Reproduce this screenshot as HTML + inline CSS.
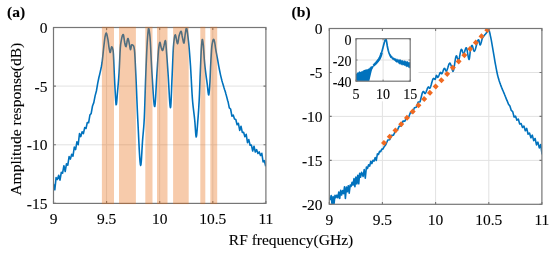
<!DOCTYPE html><html><head><meta charset="utf-8"><style>html,body{margin:0;padding:0;background:#fff;width:550px;height:254px;overflow:hidden}svg{display:block}text{font-family:'Liberation Serif','Times New Roman',serif;fill:#000;stroke:#000;stroke-width:0.1px}</style></head><body>
<svg width="550" height="254" viewBox="0 0 550 254">
<defs><clipPath id="ca"><rect x="53.5" y="27.5" width="212.4" height="175.9"/></clipPath>
<clipPath id="cb"><rect x="329.3" y="28.5" width="212.6" height="175.8"/></clipPath>
<clipPath id="ci"><rect x="356.0" y="38.7" width="54.2" height="42.5"/></clipPath></defs>
<rect width="550" height="254" fill="#fff"/>
<path d="M106.6,27.5V203.4M159.7,27.5V203.4M212.8,27.5V203.4M53.5,86.1H265.9M53.5,144.8H265.9" stroke="#e2e2e2" stroke-width="1" fill="none"/>
<g clip-path="url(#ca)"><path d="M53.5,183.9 54.8,189.8 56.1,177.6 57.4,179.5 58.7,175.2 60.0,180.1 61.3,172.3 62.6,173.2 63.9,165.7 65.2,171.5 66.5,163.7 67.8,165.1 69.1,156.6 70.4,159.1 71.7,154.2 73.0,156.2 74.3,147.0 75.6,149.6 76.9,141.9 78.2,144.7 79.5,133.5 80.8,136.6 82.1,131.7 83.4,133.6 84.7,127.6 86.0,128.5 87.3,122.5 88.6,122.8 89.9,115.1 91.2,113.4 92.5,106.0 93.8,102.6 95.1,95.9 96.4,91.0 97.7,83.3 99.0,77.0 99.3,75.9 99.6,74.7 99.9,73.4 100.2,72.1 100.5,70.8 100.8,69.4 101.1,68.0 101.4,66.5 101.7,64.8 102.0,63.0 102.3,60.8 102.6,58.2 102.9,55.4 103.2,52.4 103.5,49.5 103.8,46.7 104.1,44.2 104.4,41.6 104.7,39.1 105.0,37.0 105.3,35.6 105.6,34.3 105.9,33.4 106.2,33.0 106.5,33.3 106.8,34.2 107.1,35.4 107.4,36.8 107.7,38.3 108.0,39.9 108.3,42.1 108.6,44.5 108.9,46.8 109.2,48.6 109.5,50.2 109.8,51.7 110.1,52.5 110.4,52.3 110.7,51.1 111.0,49.4 111.3,47.7 111.6,46.8 111.9,46.8 112.2,47.3 112.5,48.1 112.8,49.2 113.1,50.6 113.4,54.0 113.7,60.1 114.0,67.3 114.3,74.0 114.6,80.2 114.9,86.5 115.2,92.0 115.5,97.1 115.8,101.9 116.1,104.8 116.4,104.5 116.7,102.0 117.0,98.4 117.3,94.4 117.6,90.9 117.9,87.6 118.2,84.3 118.5,80.7 118.8,76.8 119.1,72.4 119.4,66.7 119.7,60.1 120.0,53.5 120.3,48.1 120.6,44.7 120.9,42.7 121.2,40.9 121.5,39.3 121.8,37.8 122.1,36.6 122.4,35.6 122.7,35.0 123.0,34.6 123.3,34.6 123.6,35.5 123.9,37.3 124.2,39.4 124.5,41.5 124.8,43.3 125.1,44.5 125.4,45.7 125.7,46.5 126.0,46.6 126.3,45.8 126.6,44.4 126.9,42.6 127.2,40.7 127.5,39.3 127.8,38.5 128.1,38.6 128.4,39.4 128.7,40.7 129.0,42.2 129.3,43.8 129.6,45.2 129.9,47.1 130.2,48.8 130.5,49.6 130.8,48.9 131.1,47.4 131.4,45.8 131.7,44.8 132.0,44.7 132.3,44.8 132.6,45.0 132.9,45.2 133.2,45.5 133.5,45.8 133.8,46.6 134.1,47.9 134.4,49.6 134.7,52.6 135.0,57.6 135.3,63.7 135.6,70.1 135.9,76.2 136.2,82.8 136.5,89.9 136.8,97.3 137.1,104.7 137.4,111.7 137.7,118.1 138.0,123.9 138.3,130.0 138.6,136.4 138.9,142.6 139.2,148.6 139.5,154.0 139.8,158.6 140.1,162.2 140.4,164.6 140.7,165.4 141.0,164.2 141.3,161.1 141.6,156.6 141.9,151.4 142.2,146.1 142.5,141.4 142.8,137.5 143.1,134.2 143.4,130.9 143.7,127.4 144.0,123.2 144.3,118.1 144.6,110.8 144.9,101.7 145.2,92.0 145.5,82.5 145.8,74.2 146.1,66.8 146.4,59.5 146.7,52.6 147.0,46.5 147.3,41.4 147.6,37.3 147.9,33.4 148.2,30.2 148.5,28.4 148.8,28.6 149.1,29.8 149.4,31.8 149.7,34.2 150.0,37.0 150.3,41.3 150.6,46.7 150.9,52.9 151.2,59.2 151.5,65.4 151.8,71.0 152.1,75.7 152.4,80.3 152.7,85.1 153.0,90.0 153.3,94.5 153.6,98.7 153.9,102.2 154.2,104.8 154.5,106.3 154.8,106.5 155.1,104.6 155.4,101.0 155.7,96.1 156.0,90.5 156.3,84.6 156.6,79.0 156.9,74.2 157.2,69.7 157.5,64.9 157.8,60.0 158.1,55.5 158.4,51.4 158.7,48.2 159.0,46.1 159.3,44.2 159.6,42.9 159.9,42.3 160.2,42.9 160.5,44.2 160.8,45.8 161.1,47.2 161.4,48.1 161.7,49.0 162.0,49.7 162.3,50.3 162.6,50.5 162.9,50.1 163.2,49.0 163.5,47.7 163.8,46.4 164.1,45.2 164.4,43.8 164.7,42.4 165.0,41.2 165.3,40.5 165.6,41.1 165.9,43.7 166.2,47.6 166.5,51.9 166.8,55.7 167.1,59.7 167.4,64.0 167.7,68.4 168.0,72.8 168.3,77.2 168.6,82.4 168.9,87.9 169.2,93.4 169.5,98.6 169.8,102.9 170.1,106.1 170.4,107.7 170.7,106.9 171.0,102.9 171.3,96.6 171.6,88.9 171.9,81.1 172.2,74.2 172.5,67.4 172.8,60.0 173.1,53.0 173.4,47.3 173.7,43.7 174.0,41.0 174.3,38.5 174.6,36.6 174.9,35.3 175.2,34.8 175.5,35.2 175.8,36.2 176.1,37.6 176.4,39.2 176.7,40.9 177.0,42.3 177.3,43.3 177.6,43.7 177.9,43.0 178.2,41.4 178.5,39.3 178.8,37.2 179.1,35.8 179.4,34.8 179.7,33.9 180.0,33.0 180.3,32.3 180.6,31.7 180.9,31.4 181.2,31.4 181.5,32.2 181.8,33.8 182.1,35.7 182.4,37.3 182.7,38.7 183.0,40.2 183.3,41.6 183.6,42.7 183.9,43.1 184.2,42.3 184.5,40.3 184.8,37.7 185.1,35.0 185.4,32.9 185.7,31.0 186.0,29.2 186.3,28.1 186.6,28.2 186.9,29.2 187.2,30.9 187.5,33.0 187.8,35.5 188.1,38.1 188.4,40.7 188.7,43.4 189.0,46.5 189.3,49.9 189.6,53.6 189.9,57.6 190.2,61.6 190.5,65.8 190.8,70.7 191.1,76.1 191.4,81.8 191.7,87.4 192.0,92.7 192.3,97.4 192.6,101.2 192.9,104.4 193.2,107.2 193.5,109.7 193.8,112.2 194.1,114.6 194.4,117.2 194.7,120.0 195.0,123.4 195.3,127.8 195.6,132.2 195.9,135.6 196.2,137.0 196.5,136.1 196.8,133.6 197.1,130.2 197.4,126.2 197.7,122.2 198.0,118.5 198.3,114.6 198.6,110.2 198.9,105.4 199.2,100.0 199.5,93.4 199.8,85.6 200.1,77.5 200.4,70.0 200.7,62.9 201.0,55.8 201.3,49.5 201.6,45.0 201.9,41.7 202.2,39.5 202.5,39.6 202.8,41.1 203.1,43.3 203.4,45.9 203.7,50.1 204.0,54.9 204.3,59.5 204.6,63.0 204.9,66.0 205.2,68.7 205.5,71.2 205.8,73.6 206.1,75.9 206.4,78.1 206.7,80.2 207.0,82.4 207.3,84.7 207.6,87.3 207.9,90.3 208.2,92.9 208.5,94.6 208.8,94.9 209.1,93.2 209.4,90.1 209.7,86.3 210.0,81.5 210.3,74.2 210.6,66.8 210.9,61.1 211.2,55.5 211.5,50.5 211.8,46.6 212.1,44.4 212.4,42.8 212.7,41.4 213.0,40.3 213.3,39.6 213.6,39.3 213.9,39.6 214.2,40.5 214.5,41.7 214.8,43.0 215.1,44.9 215.4,47.3 215.7,49.2 216.0,51.0 216.3,52.6 216.6,54.2 216.9,55.8 217.2,57.4 217.5,59.0 217.8,60.7 218.1,62.4 218.4,64.1 218.7,65.8 219.0,67.4 219.3,69.0 219.6,70.5 219.9,72.0 220.2,73.4 220.5,74.8 220.8,76.1 221.1,77.4 221.4,78.6 221.7,79.8 222.0,80.9 222.3,81.9 222.6,83.0 222.9,84.0 223.2,85.0 223.5,86.0 223.8,87.0 224.1,88.0 224.4,88.9 224.7,89.9 225.0,90.8 225.3,91.8 225.6,92.8 225.9,93.9 226.2,94.9 226.5,96.1 226.8,97.2 227.1,98.4 227.4,99.5 227.7,100.8 228.0,101.4 229.3,107.9 230.6,109.0 231.9,116.1 233.2,115.0 234.5,119.1 235.8,119.5 237.1,124.8 238.4,123.3 239.7,130.4 241.0,126.2 242.3,132.4 243.6,132.2 244.9,136.7 246.2,134.3 247.5,142.7 248.8,139.6 250.1,145.3 251.4,145.1 252.7,151.0 254.0,146.3 255.3,152.0 256.6,149.6 257.9,153.5 259.2,151.9 260.5,155.5 261.8,153.3 263.1,161.9 264.4,160.7 265.7,166.3" stroke="#0072BD" stroke-width="1.6" fill="none" stroke-linejoin="round"/></g>
<rect x="53.5" y="27.5" width="212.4" height="175.9" fill="none" stroke="#767676" stroke-width="1.2"/>
<path d="M53.5,203.4v-2.4M53.5,27.5v2.4M106.6,203.4v-2.4M106.6,27.5v2.4M159.7,203.4v-2.4M159.7,27.5v2.4M212.8,203.4v-2.4M212.8,27.5v2.4M265.9,203.4v-2.4M265.9,27.5v2.4M53.5,27.5h2.4M265.9,27.5h-2.4M53.5,86.1h2.4M265.9,86.1h-2.4M53.5,144.8h2.4M265.9,144.8h-2.4M53.5,203.4h2.4M265.9,203.4h-2.4" stroke="#767676" stroke-width="1.1"/>
<rect x="101.9" y="26.8" width="12.1" height="177.3" fill="#E76A0E" fill-opacity="0.35"/>
<rect x="119.0" y="26.8" width="16.9" height="177.3" fill="#E76A0E" fill-opacity="0.35"/>
<rect x="145.3" y="26.8" width="7.2" height="177.3" fill="#E76A0E" fill-opacity="0.35"/>
<rect x="157.0" y="26.8" width="10.5" height="177.3" fill="#E76A0E" fill-opacity="0.35"/>
<rect x="173.1" y="26.8" width="15.6" height="177.3" fill="#E76A0E" fill-opacity="0.35"/>
<rect x="200.3" y="26.8" width="5.0" height="177.3" fill="#E76A0E" fill-opacity="0.35"/>
<rect x="210.3" y="26.8" width="6.9" height="177.3" fill="#E76A0E" fill-opacity="0.35"/>
<path d="M382.4,28.5V204.3M435.6,28.5V204.3M488.8,28.5V204.3M329.3,72.5H541.9M329.3,116.4H541.9M329.3,160.4H541.9" stroke="#e2e2e2" stroke-width="1" fill="none"/>
<rect x="330.2" y="29.3" width="88.3" height="72" fill="#fff"/>
<g clip-path="url(#cb)"><path d="M329.3,197.6 330.2,199.5 331.2,195.5 332.1,205.3 333.1,196.6 334.0,203.8 335.0,195.4 335.9,197.6 336.9,195.2 337.8,197.8 338.8,192.0 339.7,198.4 340.7,190.4 341.6,195.0 342.6,190.6 343.5,193.6 344.5,186.8 345.4,198.4 346.4,187.1 347.3,191.6 348.3,185.7 349.2,193.2 350.2,185.1 351.1,186.3 352.1,182.2 353.0,185.1 354.0,178.5 354.9,186.7 355.9,177.1 356.8,183.9 357.8,175.2 358.7,183.8 359.7,173.2 360.6,177.2 361.6,172.3 362.0,173.3 363.1,176.5 364.2,169.5 365.3,178.1 366.4,167.0 367.5,168.5 368.6,164.7 369.7,166.1 370.8,161.3 371.9,163.6 373.0,160.3 374.1,161.1 375.2,157.6 376.3,160.4 377.4,153.9 378.5,154.4 379.6,151.4 380.7,151.6 381.8,149.0 382.9,149.2 384.0,147.0 385.9,144.5 387.8,140.0 389.7,139.8 391.6,135.4 393.5,135.2 395.4,130.7 397.3,130.3 399.2,126.2 401.1,125.9 403.0,121.1 404.9,121.1 406.8,117.2 408.7,117.0 410.6,112.1 412.5,112.8 414.4,107.7 416.3,107.2 418.2,102.1 420.1,101.8 422.0,94.0 422.3,93.1 422.6,92.4 422.9,91.9 423.2,91.6 423.5,91.5 423.8,91.7 424.1,92.2 424.4,92.8 424.7,93.3 425.0,93.5 425.3,93.4 425.6,93.0 425.9,92.4 426.2,91.7 426.5,90.9 426.8,90.1 427.1,89.2 427.4,88.4 427.7,87.8 428.0,87.3 428.3,87.0 428.6,86.9 428.9,87.3 429.2,87.9 429.5,88.3 429.8,88.2 430.1,87.9 430.4,87.3 430.7,86.5 431.0,85.5 431.3,84.5 431.6,83.3 431.9,82.2 432.2,81.2 432.5,80.2 432.8,79.4 433.1,78.8 433.4,78.5 433.7,78.4 434.0,78.6 434.3,78.9 434.6,79.2 434.9,79.4 435.2,79.4 435.5,78.7 435.8,77.4 436.1,76.1 436.4,75.4 436.7,75.5 437.0,76.1 437.3,76.9 437.6,77.4 437.9,77.3 438.2,77.0 438.5,76.5 438.8,75.8 439.1,75.0 439.4,74.3 439.7,73.5 440.0,73.0 440.3,72.5 440.6,72.4 440.9,72.7 441.2,73.3 441.5,73.8 441.8,73.7 442.1,73.4 442.4,72.8 442.7,72.0 443.0,71.2 443.3,70.3 443.6,69.6 443.9,68.9 444.2,68.5 444.5,68.3 444.8,68.5 445.1,69.1 445.4,69.8 445.7,70.5 446.0,71.0 446.3,71.1 446.6,70.8 446.9,70.3 447.2,69.6 447.5,68.7 447.8,67.8 448.1,66.8 448.4,65.8 448.7,64.9 449.0,64.1 449.3,63.5 449.6,63.2 449.9,63.1 450.2,63.4 450.5,64.0 450.8,64.7 451.1,65.5 451.4,66.3 451.7,67.3 452.0,68.5 452.3,69.7 452.6,70.7 452.9,71.3 453.2,71.1 453.5,70.4 453.8,69.1 454.1,67.5 454.4,65.6 454.7,63.5 455.0,61.5 455.3,59.6 455.6,58.0 455.9,56.7 456.2,56.0 456.5,55.8 456.8,56.4 457.1,57.2 457.4,58.0 457.7,58.7 458.0,59.5 458.3,60.1 458.6,60.2 458.9,59.6 459.2,58.6 459.5,57.2 459.8,55.6 460.1,53.9 460.4,52.3 460.7,50.9 461.0,49.9 461.3,49.3 461.6,49.4 461.9,49.9 462.2,50.6 462.5,51.5 462.8,52.3 463.1,53.0 463.4,53.5 463.7,53.6 464.0,53.2 464.3,52.6 464.6,51.8 464.9,50.8 465.2,49.8 465.5,48.9 465.8,48.2 466.1,47.8 466.4,47.7 466.7,48.4 467.0,49.5 467.3,51.1 467.6,53.0 467.9,54.9 468.2,56.6 468.5,58.1 468.8,59.1 469.1,59.5 469.4,58.6 469.7,56.4 470.0,53.6 470.3,50.9 470.6,49.1 470.9,48.0 471.2,46.9 471.5,46.0 471.8,45.5 472.1,45.4 472.4,45.9 472.7,46.8 473.0,47.9 473.3,49.1 473.6,50.2 473.9,51.0 474.2,51.3 474.5,51.1 474.8,50.7 475.1,50.0 475.4,49.2 475.7,48.1 476.0,47.0 476.3,45.8 476.6,44.7 476.9,43.5 477.2,42.4 477.5,41.4 477.8,40.6 478.1,40.0 478.4,39.7 478.7,39.7 479.0,40.5 479.3,42.0 479.6,43.6 479.9,44.7 480.2,45.0 480.5,44.6 480.8,43.8 481.1,42.8 481.4,41.7 481.7,40.5 482.0,39.4 482.3,38.5 482.6,37.8 482.9,37.3 483.2,36.8 483.5,36.4 483.8,36.0 484.1,35.6 484.4,35.2 484.7,34.9 485.0,34.6 485.3,34.3 485.6,34.0 485.9,33.6 486.2,33.2 486.5,32.8 486.8,32.3 487.1,31.8 487.4,31.2 487.7,30.2 488.0,29.1 488.3,28.8 488.6,29.3 488.9,30.0 489.2,30.7 489.5,31.7 489.8,33.0 490.1,34.3 490.4,35.8 490.7,37.2 491.0,38.7 491.3,40.2 491.6,41.9 491.9,43.6 492.2,45.3 492.5,47.1 492.8,48.9 493.1,50.6 493.4,52.3 493.7,54.1 494.0,55.9 494.3,57.7 494.6,59.5 494.9,61.3 495.2,63.0 495.5,64.6 495.8,66.2 496.1,67.8 496.4,69.4 496.7,71.0 497.0,72.5 497.3,73.9 497.6,75.2 497.9,76.4 498.2,77.5 498.5,78.6 498.8,79.5 499.1,80.5 499.4,81.4 499.7,82.3 500.0,83.1 500.3,83.9 500.6,84.8 500.9,85.6 501.2,86.4 501.5,87.2 501.8,87.9 502.1,88.6 502.4,89.4 502.7,90.1 503.0,90.8 503.3,91.5 503.6,92.2 503.9,92.9 504.2,93.6 504.5,94.3 504.8,95.1 505.1,95.8 505.4,96.6 505.7,97.3 506.0,98.1 506.3,98.9 506.6,99.6 506.9,100.4 507.1,100.6 508.5,104.3 509.9,106.1 511.3,110.4 512.7,111.6 514.1,117.0 515.5,116.1 516.9,120.2 518.3,119.0 519.7,124.0 521.1,123.6 522.5,127.5 523.9,126.1 525.3,130.8 526.7,128.4 528.1,134.2 529.5,133.0 530.9,137.8 532.3,135.1 533.7,140.6 535.1,138.5 536.5,144.9 537.9,142.2 539.3,147.9 540.7,144.6 542.1,154.5" stroke="#0072BD" stroke-width="1.6" fill="none" stroke-linejoin="round"/>
<path d="M382.60,144.50L488.75,28.50" stroke="#F06A22" stroke-width="4.3" stroke-dasharray="4.2 4.300" fill="none"/></g>
<rect x="329.3" y="28.5" width="212.6" height="175.8" fill="none" stroke="#767676" stroke-width="1.2"/>
<path d="M329.3,204.3v-2.4M329.3,28.5v2.4M382.4,204.3v-2.4M382.4,28.5v2.4M435.6,204.3v-2.4M435.6,28.5v2.4M488.8,204.3v-2.4M488.8,28.5v2.4M541.9,204.3v-2.4M541.9,28.5v2.4M329.3,28.5h2.4M541.9,28.5h-2.4M329.3,72.5h2.4M541.9,72.5h-2.4M329.3,116.4h2.4M541.9,116.4h-2.4M329.3,160.4h2.4M541.9,160.4h-2.4M329.3,204.3h2.4M541.9,204.3h-2.4" stroke="#767676" stroke-width="1.1"/>
<rect x="356.0" y="38.7" width="54.2" height="42.5" fill="#fff"/>
<path d="M383.1,38.7V81.2M356.0,60.0H410.2" stroke="#e2e2e2" stroke-width="1"/>
<g clip-path="url(#ci)"><path d="M356.0,73.3 356.6,74.0 357.2,72.4 357.8,72.4 358.4,72.4 359.0,71.4 359.6,71.3 360.2,72.0 360.8,71.7 361.4,71.3 362.0,71.4 362.6,71.0 363.2,70.2 363.8,70.4 364.4,69.8 365.0,70.1 365.6,69.4 366.2,68.9 366.8,69.7 367.4,69.2 368.0,69.0 368.6,68.4 369.2,68.4 369.8,67.5 370.4,67.3 371.0,66.1 371.6,66.4 372.2,66.3 372.8,65.7 373.4,65.3 374.0,64.4 374.6,64.3 374.6,65.0 374.0,66.0 373.4,67.2 372.8,68.4 372.2,69.6 371.6,71.6 371.0,74.0 370.4,76.4 369.8,79.0 369.2,81.5 368.6,81.5 368.0,81.5 367.4,81.5 366.8,81.5 366.2,81.5 365.6,81.5 365.0,81.5 364.4,81.5 363.8,81.5 363.2,81.5 362.6,81.5 362.0,81.5 361.4,81.5 360.8,81.5 360.2,81.5 359.6,81.5 359.0,81.5 358.4,81.5 357.8,81.5 357.2,81.5 356.6,81.5 356.0,81.5 Z" fill="#0072BD"/><path d="M373.5,65.5 373.8,65.2 374.1,65.0 374.4,64.7 374.7,64.4 375.0,64.1 375.3,63.8 375.6,63.5 375.9,63.2 376.2,62.9 376.5,62.5 376.8,62.2 377.1,61.8 377.4,61.5 377.7,61.1 378.0,60.7 378.3,60.3 378.6,59.9 378.9,59.4 379.2,59.0 379.5,58.5 379.8,57.9 380.1,57.3 380.4,56.5 380.7,55.7 381.0,54.8 381.3,53.8 381.6,52.9" stroke="#0072BD" stroke-width="2.6" fill="none"/><path d="M381.0,54.6 381.3,53.6 381.6,52.7 381.9,51.6 382.2,50.5 382.5,49.4 382.8,48.2 383.1,47.1 383.4,46.0 383.7,44.8 384.0,43.7 384.3,42.6 384.6,41.7 384.9,40.7 385.2,39.7 385.5,39.0 385.8,38.7 386.1,39.3 386.4,40.6 386.7,42.1 387.0,44.1 387.3,46.0 387.6,47.5 387.9,48.9 388.2,50.2 388.5,51.3 388.8,52.3 389.1,53.1 389.4,53.9 389.7,54.6 390.0,55.2 390.3,55.6 390.6,56.1 390.9,56.5 391.2,56.8 391.5,57.1 391.8,57.4" stroke="#0072BD" stroke-width="1.7" fill="none"/><path d="M390.0,54.1 390.6,55.7 391.2,55.9 391.8,56.2 392.4,57.2 393.0,57.5 393.6,57.8 394.2,58.5 394.8,58.1 395.4,58.8 396.0,58.9 396.6,59.2 397.2,59.4 397.8,59.2 398.4,59.7 399.0,60.2 399.6,59.7 400.2,59.7 400.8,59.9 401.4,60.4 402.0,61.0 402.6,60.3 403.2,61.4 403.8,61.0 404.4,60.8 405.0,61.2 405.6,61.1 406.2,61.8 406.8,61.8 407.4,61.6 408.0,61.7 408.6,62.5 409.2,62.5 409.8,62.3 410.4,62.4 410.4,67.7 409.8,67.9 409.2,67.6 408.6,67.4 408.0,66.4 407.4,66.5 406.8,66.8 406.2,66.4 405.6,66.1 405.0,65.3 404.4,65.5 403.8,64.9 403.2,64.9 402.6,65.0 402.0,64.5 401.4,64.7 400.8,64.4 400.2,63.7 399.6,64.0 399.0,63.7 398.4,63.0 397.8,62.3 397.2,61.9 396.6,62.2 396.0,62.0 395.4,61.3 394.8,60.8 394.2,60.2 393.6,59.8 393.0,59.8 392.4,59.2 391.8,58.4 391.2,57.6 390.6,57.7 390.0,56.5 Z" fill="#0072BD" stroke="#0072BD" stroke-width="0.6"/></g>
<rect x="356.0" y="38.7" width="54.2" height="42.5" fill="none" stroke="#767676" stroke-width="1.2"/>
<path d="M356.0,81.2v-1.6M356.0,38.7v1.6M383.1,81.2v-1.6M383.1,38.7v1.6M410.2,81.2v-1.6M410.2,38.7v1.6M356.0,38.7h1.6M410.2,38.7h-1.6M356.0,60.0h1.6M410.2,60.0h-1.6M356.0,81.2h1.6M410.2,81.2h-1.6" stroke="#767676" stroke-width="1"/>
<text x="53.5" y="224.1" font-size="15.5" text-anchor="middle">9</text>
<text x="106.6" y="224.1" font-size="15.5" text-anchor="middle">9.5</text>
<text x="159.7" y="224.1" font-size="15.5" text-anchor="middle">10</text>
<text x="212.8" y="224.1" font-size="15.5" text-anchor="middle">10.5</text>
<text x="265.9" y="224.1" font-size="15.5" text-anchor="middle">11</text>
<text x="47.5" y="32.9" font-size="15.5" text-anchor="end">0</text>
<text x="47.5" y="91.5" font-size="15.5" text-anchor="end">-5</text>
<text x="47.5" y="150.2" font-size="15.5" text-anchor="end">-10</text>
<text x="47.5" y="208.8" font-size="15.5" text-anchor="end">-15</text>
<text x="329.3" y="225.4" font-size="15.5" text-anchor="middle">9</text>
<text x="382.4" y="225.4" font-size="15.5" text-anchor="middle">9.5</text>
<text x="435.6" y="225.4" font-size="15.5" text-anchor="middle">10</text>
<text x="488.8" y="225.4" font-size="15.5" text-anchor="middle">10.5</text>
<text x="541.9" y="225.4" font-size="15.5" text-anchor="middle">11</text>
<text x="322.6" y="33.9" font-size="15.5" text-anchor="end">0</text>
<text x="322.6" y="77.9" font-size="15.5" text-anchor="end">-5</text>
<text x="322.6" y="121.8" font-size="15.5" text-anchor="end">-10</text>
<text x="322.6" y="165.8" font-size="15.5" text-anchor="end">-15</text>
<text x="322.6" y="209.7" font-size="15.5" text-anchor="end">-20</text>
<text x="356.0" y="99.0" font-size="14" text-anchor="middle">5</text>
<text x="383.1" y="99.0" font-size="14" text-anchor="middle">10</text>
<text x="410.2" y="99.0" font-size="14" text-anchor="middle">15</text>
<text x="351.4" y="44.9" font-size="14" text-anchor="end">0</text>
<text x="351.4" y="66.2" font-size="14" text-anchor="end">-20</text>
<text x="351.4" y="87.4" font-size="14" text-anchor="end">-40</text>
<text x="291.0" y="245.3" font-size="15.5" text-anchor="middle">RF frequency(GHz)</text>
<text transform="translate(21.2,119.2) rotate(-90)" font-size="15.5" text-anchor="middle">Amplitude response(dB)</text>
<text x="7" y="16.9" font-size="15.5" font-weight="bold">(a)</text>
<text x="291.6" y="16.9" font-size="15.5" font-weight="bold">(b)</text>
</svg></body></html>
